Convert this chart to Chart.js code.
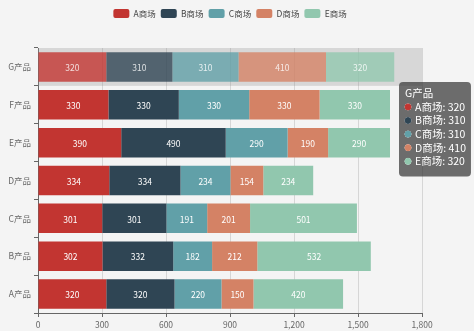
<!DOCTYPE html>
<html>
<head>
<meta charset="utf-8">
<script src="https://cdn.jsdelivr.net/npm/chart.js@4/dist/chart.umd.min.js"></script>
<style>
  html, body { margin: 0; padding: 0; background: #f4f4f4; }
  #wrap { width: 474px; height: 331px; }
</style>
</head>
<body>
<div id="wrap"><canvas id="salesChart" width="474" height="331"></canvas></div>
<script>
// categories and series
const products = ['A产品', 'B产品', 'C产品', 'D产品', 'E产品', 'F产品', 'G产品'];
const mallA = [320, 302, 301, 334, 390, 330, 320];
const mallB = [320, 332, 301, 334, 490, 330, 310];
const mallC = [220, 182, 191, 234, 290, 330, 310];
const mallD = [150, 212, 201, 154, 190, 330, 410];
const mallE = [420, 532, 501, 234, 290, 330, 320];
const mallNames = ['A商场', 'B商场', 'C商场', 'D商场', 'E商场'];
const mallColors = ['#c23531', '#2f4554', '#61a0a8', '#d48265', '#91c7ae'];
const xTicks = [0, 300, 600, 900, 1200, 1500, 1800];

const activeIndex = 6; // G产品 is hovered in the reference
const FONT = '"Noto Sans CJK SC", "Noto Sans", sans-serif';

function fade(hex, a) {
    const n = parseInt(hex.slice(1), 16);
    return `rgba(${n >> 16}, ${(n >> 8) & 255}, ${n & 255}, ${a})`;
}

const seriesValues = [mallA, mallB, mallC, mallD, mallE];
const datasets = seriesValues.map((vals, i) => ({
    label: mallNames[i],
    data: vals,
    backgroundColor: ctx => ctx.dataIndex === activeIndex ? fade(mallColors[i], 0.8) : mallColors[i],
    hoverBackgroundColor: ctx => ctx.dataIndex === activeIndex ? fade(mallColors[i], 0.8) : mallColors[i],
    borderWidth: 0,
    barPercentage: 0.78,
    categoryPercentage: 1,
}));

// grey shadow band behind the hovered category
const shadowBand = {
    id: 'shadowBand',
    beforeDatasetsDraw(chart) {
        const { ctx, chartArea, scales } = chart;
        const y = scales.y.getPixelForValue(activeIndex);
        const h = (chartArea.bottom - chartArea.top) / products.length;
        ctx.save();
        ctx.fillStyle = 'rgba(150,150,150,0.3)';
        ctx.fillRect(chartArea.left, y - h / 2, chartArea.right - chartArea.left, h);
        ctx.restore();
    }
};

// value labels in the middle of each segment
const barLabels = {
    id: 'barLabels',
    afterDatasetsDraw(chart) {
        const { ctx } = chart;
        ctx.save();
        ctx.font = '8.5px ' + FONT;
        ctx.textAlign = 'center';
        ctx.textBaseline = 'middle';
        chart.data.datasets.forEach((ds, di) => {
            chart.getDatasetMeta(di).data.forEach((bar, idx) => {
                const p = bar.getProps(['x', 'y', 'base'], true);
                ctx.fillStyle = idx === activeIndex ? 'rgba(255,255,255,0.8)' : '#fff';
                ctx.fillText(ds.data[idx], (p.x + p.base) / 2, p.y + 1);
            });
        });
        ctx.restore();
    }
};

// legend: fixed height, centred on the whole canvas rather than the padded box
const legendLayout = {
    id: 'legendLayout',
    beforeInit(chart) {
        const fit = chart.legend.fit;
        chart.legend.fit = function () {
            fit.call(this);
            this.height = 44;
        };
    },
    afterUpdate(chart) {
        const lg = chart.legend;
        lg.left += 19;
        lg.right += 19;
        lg.adjustHitBoxes();
    }
};

Chart.Tooltip.positioners.fixedBox = function () {
    return { x: 403, y: 82 };
};

const ctx = document.getElementById('salesChart').getContext('2d');
const salesChart = new Chart(ctx, {
    type: 'bar',
    data: { labels: products, datasets: datasets },
    plugins: [legendLayout, shadowBand, barLabels],
    options: {
        indexAxis: 'y',
        responsive: false,
        animation: false,
        events: [],
        layout: { padding: { left: 0, right: 52, top: 4, bottom: 0 } },
        font: { family: FONT },
        plugins: {
            legend: {
                position: 'top',
                labels: {
                    color: '#444',
                    font: { size: 8.5, family: FONT },
                    boxWidth: 16,
                    boxHeight: 9,
                    padding: 5,
                    useBorderRadius: true,
                    borderRadius: 2,
                }
            },
            tooltip: {
                mode: 'index',
                intersect: false,
                position: 'fixedBox',
                xAlign: 'left',
                yAlign: 'top',
                caretSize: 0,
                caretPadding: 0,
                cornerRadius: 4,
                backgroundColor: 'rgba(50,50,50,0.7)',
                padding: { left: 6, right: 5, top: 5, bottom: 9 },
                titleFont: { size: 10.5, weight: 'normal', family: FONT },
                bodyFont: { size: 10.5, family: FONT },
                titleMarginBottom: 1,
                bodySpacing: 1,
                boxWidth: 6,
                boxHeight: 6,
                boxPadding: 2,
                usePointStyle: true,
                callbacks: {
                    labelPointStyle: () => ({ pointStyle: 'circle', rotation: 0 }),
                    labelColor: item => ({
                        borderColor: mallColors[item.datasetIndex],
                        backgroundColor: mallColors[item.datasetIndex],
                        borderWidth: 0,
                    }),
                    label: item => `${item.dataset.label}: ${item.raw}`,
                }
            }
        },
        scales: {
            x: {
                stacked: true,
                min: 0,
                max: 1800,
                afterBuildTicks: scale => { scale.ticks = xTicks.map(v => ({ value: v })); },
                afterFit: scale => { scale.height = 18; },
                ticks: { color: '#666', font: { size: 8.5 }, padding: 3 },
                grid: { color: '#d6d6d6', tickLength: 4, tickColor: '#666' },
                border: { color: '#666' }
            },
            y: {
                stacked: true,
                reverse: true,
                afterFit: scale => { scale.width = 38; },
                ticks: { color: '#666', font: { size: 8.5 }, padding: 3 },
                grid: { drawOnChartArea: false, tickLength: 4, tickColor: '#666' },
                border: { color: '#666' }
            }
        }
    }
});

salesChart.tooltip.setActiveElements(
    mallNames.map((_, i) => ({ datasetIndex: i, index: activeIndex })),
    { x: 403, y: 82 }
);
salesChart.update();
</script>
</body>
</html>
